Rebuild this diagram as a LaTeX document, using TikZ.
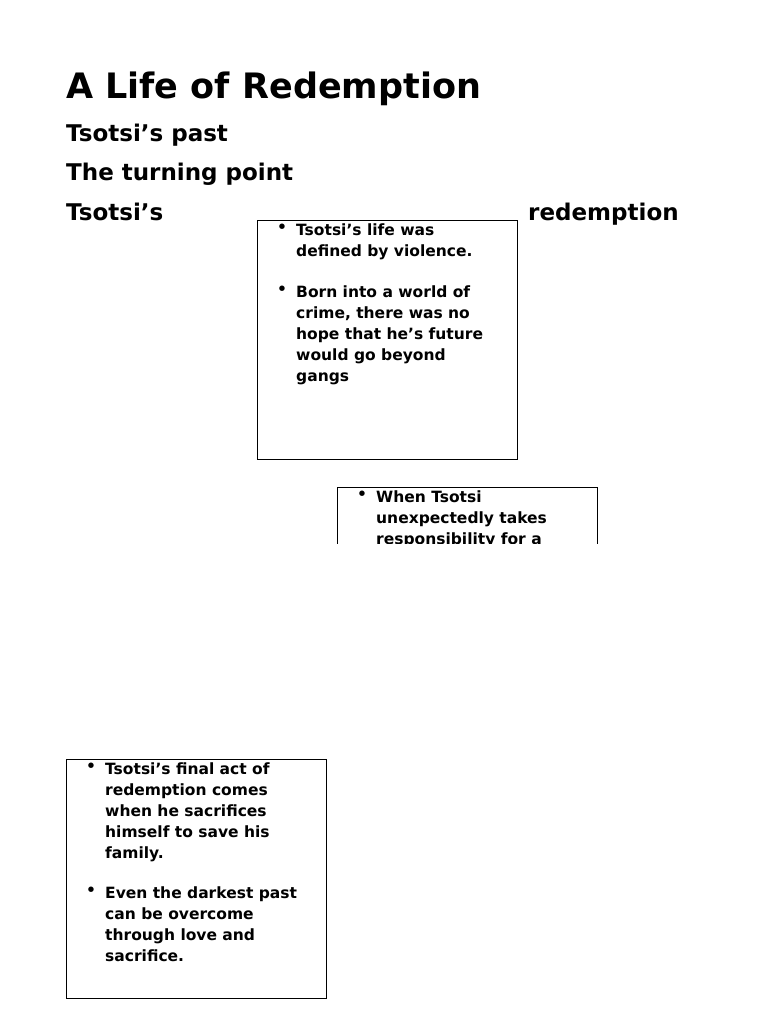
\documentclass[tikz,border=0pt]{standalone}
\usepackage{fontspec}
\setmainfont{DejaVu Sans}
\begin{document}
\begin{tikzpicture}[x=1pt,y=-1pt,
  hd/.style={anchor=base west,inner sep=0pt,font=\bfseries\fontsize{23}{28}\selectfont},
  box/.style={draw,line width=0.7pt},
  bl/.style={anchor=north west,inner sep=0pt,align=left,font=\bfseries\fontsize{15.5}{20.8}\selectfont},
  dot/.style={anchor=north west,inner sep=0pt,font=\bfseries\fontsize{15.5}{20.8}\selectfont}]
\useasboundingbox (0,0) rectangle (768,1024);
\node[anchor=base west,inner sep=0pt,font=\bfseries\fontsize{35}{40}\selectfont] (title) at (66,99) {A Life of Redemption};
\node[hd] (h1) at (66,142) {Tsotsi’s past};
\node[hd] (h2) at (66,181) {The turning point};
\node[hd] (h3a) at (66,221) {Tsotsi’s};
\node[hd] (h3b) at (528,221) {redemption};
% box 1
\draw[box,fill=white] (257,220) rectangle (517,459);
\node[dot] (d1) at (277,224) {•};
\node[bl] (t1) at (296,224) {Tsotsi’s life was\\defined by violence.};
\node[dot] (d2) at (277,286) {•};
\node[bl] (t2) at (296,286) {Born into a world of\\crime, there was no\\hope that he’s future\\would go beyond\\gangs};
% box 2 clipped
\begin{scope}
\clip (300,480) rectangle (620,543);
\draw[box] (337,487) rectangle (597,700);
\node[dot] (d3) at (357,491) {•};
\node[bl] (t3) at (376,491) {When Tsotsi\\unexpectedly takes\\responsibility for a};
\end{scope}
% box 3
\draw[box] (66,759) rectangle (326,998);
\node[dot] (d4) at (86,763) {•};
\node[bl] (t4) at (105,763) {Tsotsi’s final act of\\redemption comes\\when he sacrifices\\himself to save his\\family.};
\node[dot] (d5) at (86,887) {•};
\node[bl] (t5) at (105,887) {Even the darkest past\\can be overcome\\through love and\\sacrifice.};
\end{tikzpicture}
\end{document}
